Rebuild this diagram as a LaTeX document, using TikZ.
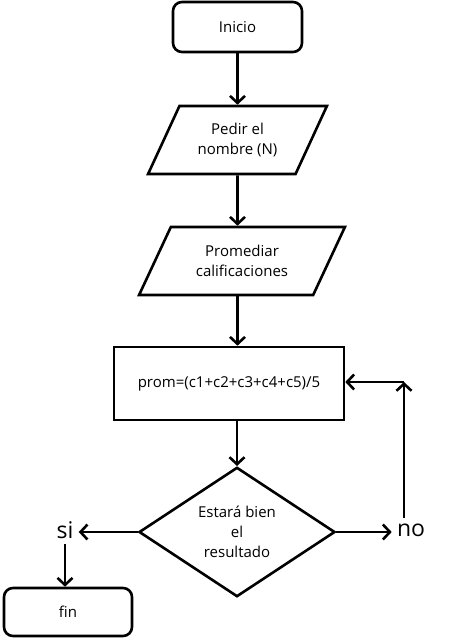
\documentclass[tikz,border=0pt]{standalone}
\usepackage{fontspec}
\setmainfont{Open Sans}
\usetikzlibrary{shapes.geometric,arrows.meta}

\begin{document}
\begin{tikzpicture}[x=1pt,y=-1pt,line width=2.6pt,font=\fontsize{15}{20}\selectfont,
    term_node/.style={rectangle,draw,rounded corners=9pt,minimum width=129pt,minimum height=50pt},
    io_node/.style={trapezium,draw,trapezium left angle=60,trapezium right angle=120,trapezium stretches=true,align=center,minimum height=68pt},
    proc_node/.style={rectangle,draw,minimum width=230pt,minimum height=73pt},
    dec_node/.style={diamond,draw,align=center,inner sep=0pt,minimum width=196pt,minimum height=128pt},
    label_node/.style={inner sep=4pt,font=\fontsize{23}{25}\selectfont},
    flow_arrow/.style={-{Straight Barb[length=7pt,width=15pt]}}]
        \useasboundingbox (0,0) rectangle (475,640);
	    \node[term_node] (1) at (237.5,27) {Inicio};
	    \node[io_node,minimum width=179pt] (2) at (237.5,140) {Pedir el\\nombre (N)};
	    \node[io_node,minimum width=206pt] (3) at (242,261) {Promediar\\calificaciones};
	    \node[proc_node] (4) at (229,383.5) {prom=(c1+c2+c3+c4+c5)/5};
	    \node[dec_node] (5) at (237,532) {Estará bien\\el\\resultado};
	    \node[label_node] (6) at (65,530) {si};
	    \node[label_node] (7) at (411,530) {no};
	    \node[term_node,minimum width=128pt,minimum height=48pt] (8) at (68,612) {fin};
	    \coordinate (9) at (404,382);
	    
	    \draw[flow_arrow] (1) -- (2);
	    \draw[flow_arrow] (2) -- (2 |- 3.north);
	    \draw[flow_arrow] (3.south -| 1) -- (4.north -| 1);
	    \draw[flow_arrow] (4.south -| 5) -- (5.north);
	    \draw[flow_arrow] (5.west) -- (6.east |- 5.west);
	    \draw[flow_arrow] (6) -- (6 |- 8.north);
	    \draw[flow_arrow] (5.east) -- (7.west |- 5.east);
	    \draw[flow_arrow] (7.north -| 9) -- (9);
	    \draw[flow_arrow] (9) -- (4.east |- 9);
    \end{tikzpicture}
\end{document}
